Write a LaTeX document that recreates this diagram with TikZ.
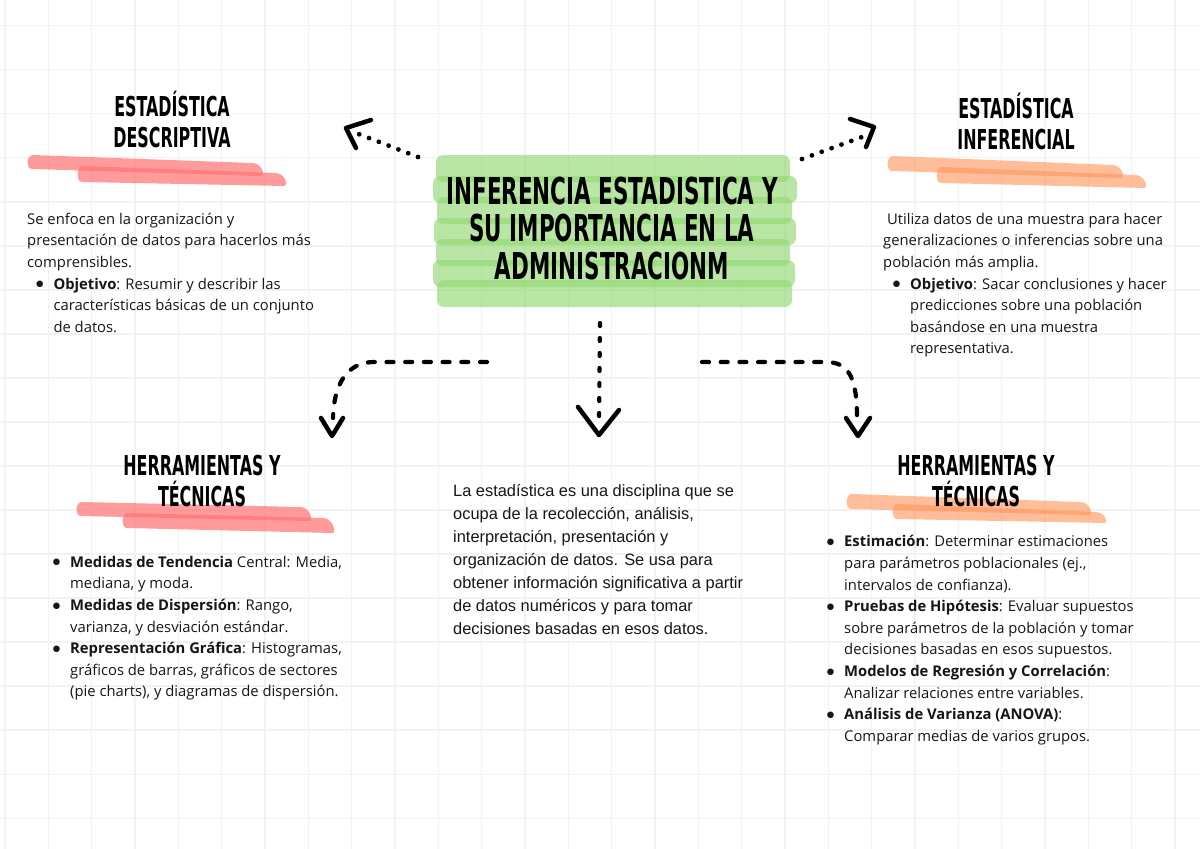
\documentclass[tikz,border=0pt]{standalone}
\usepackage{fontspec}
\setmainfont{Open Sans}
\newfontfamily\ctext{Liberation Sans}
\newfontfamily\dvs{DejaVu Sans}
\newfontfamily\hand{DejaVu Sans}[FakeStretch=0.58]
\definecolor{gridc}{HTML}{F2F2F2}
\definecolor{pinkB}{RGB}{255,117,117}
\definecolor{orangeB}{RGB}{255,149,92}
\definecolor{greenB}{RGB}{146,216,115}
\definecolor{ink}{HTML}{161616}
\newcommand\brushstroke[7]{%
  \fill[#1] ({#2+5},#3) -- ({#5-10},#6) .. controls ({#5},#6) and ({#5+3},{#7-1}) .. ({#5},#7)
    -- ({#2+4},#4) .. controls ({#2-2},#4) and ({#2-2},#3) .. cycle;}
\newcommand\greenband[6]{%
  \fill[greenB, fill opacity=0.64, rounded corners=7pt] (#1,#2) -- (#4,#5) -- (#4,{#5+27}) -- (#1,{#2+27}) -- cycle;}
\newcommand\bul{\llap{\raisebox{2.4pt}{\dvs\fontsize{8.5}{8.5}\selectfont ●}\hspace{10pt}}}
\tikzset{
  gridline/.style={draw=gridc, line width=1.4pt},
  heading/.style={font=\hand\bfseries\fontsize{27.4}{30.5}\selectfont, align=center, anchor=south, inner sep=0pt, text=black},
  titletext/.style={font=\hand\bfseries\fontsize{37}{37.5}\selectfont, align=center, anchor=south, inner sep=0pt, text=black},
  body/.style={font=\fontsize{14.8}{21.6}\selectfont, align=left, anchor=north west, inner sep=0pt, text=ink},
  ctr/.style={font=\ctext\fontsize{16.4}{23}\selectfont, align=left, anchor=north west, inner sep=0pt, text=ink},
  dotline/.style={line width=4.8pt, line cap=round, dash pattern=on 0pt off 10.5pt},
  dashline/.style={line width=4.2pt, line cap=round, dash pattern=on 7pt off 11.7pt},
  vdash/.style={line width=4.2pt, line cap=round, dash pattern=on 3pt off 12pt},
  head/.style={line width=4.5pt, line cap=round, line join=round},
  pinkfill/.style={fill=pinkB, fill opacity=0.72},
  orangefill/.style={fill=orangeB, fill opacity=0.62}
}
\begin{document}
\begin{tikzpicture}[x=1pt, y=-1pt]
\fill[white] (0,0) rectangle (1200,849);
\useasboundingbox (0,0) rectangle (1200,849);
% grid
\foreach \i in {0,...,27} \draw[gridline] ({5+43.33*\i},0) -- ({5+43.33*\i},849);
\foreach \j in {0,...,18} \draw[gridline] (0,{25.7+44.03*\j}) -- (1200,{25.7+44.03*\j});

% green title brush
\greenband{436}{155}{}{790}{155}{}
\greenband{433}{176}{}{797}{176}{}
\greenband{437}{197}{}{792}{197}{}
\greenband{434}{218}{}{796}{218}{}
\greenband{436}{239}{}{790}{239}{}
\greenband{433}{260}{}{795}{260}{}
\greenband{437}{280}{}{792}{280}{}

% highlighter strokes
\brushstroke{pinkfill}{28}{155}{169}{262}{163}{176}
\brushstroke{pinkfill}{78}{166}{182}{285}{173}{186}
\brushstroke{orangefill}{888}{156}{171}{1122}{165}{178}
\brushstroke{orangefill}{937}{167}{183}{1145}{175}{188}
\brushstroke{pinkfill}{77}{502}{516}{310}{507}{521}
\brushstroke{pinkfill}{123}{513}{528}{333}{518}{533}
\brushstroke{orangefill}{847}{494}{509}{1090}{502}{515}
\brushstroke{orangefill}{893}{504}{519}{1105}{512}{523}

% title
\node[titletext] (title) at (612,280) {INFERENCIA ESTADISTICA Y\\SU IMPORTANCIA EN LA\\ADMINISTRACIONM};

% headings
\node[heading] (hTL) at (172,148) {ESTADÍSTICA\\DESCRIPTIVA};
\node[heading] (hTR) at (1016,150) {ESTADÍSTICA\\INFERENCIAL};
\node[heading] (hBL) at (202,507) {HERRAMIENTAS Y\\TÉCNICAS};
\node[heading] (hBR) at (976,507) {HERRAMIENTAS Y\\TÉCNICAS};

% text blocks
\node[body] (tTL) at (27,208.9) {\strut Se enfoca en la organización y\\
presentación de datos para hacerlos más\\
comprensibles.\\
\hspace*{26.3pt}\bul\textbf{Objetivo}: Resumir y describir las\\
\hspace*{26.3pt}características básicas de un conjunto\\
\hspace*{26.3pt}de datos.};

\node[body] (tTR) at (883,208.9) {\strut\hspace*{4pt}Utiliza datos de una muestra para hacer\\
generalizaciones o inferencias sobre una\\
población más amplia.\\
\hspace*{27pt}\bul\textbf{Objetivo}: Sacar conclusiones y hacer\\
\hspace*{27pt}predicciones sobre una población\\
\hspace*{27pt}basándose en una muestra\\
\hspace*{27pt}representativa.};

\node[body] (tBL) at (70,551.9) {\strut\bul\textbf{Medidas de Tendencia} Central: Media,\\
mediana, y moda.\\
\bul\textbf{Medidas de Dispersión}: Rango,\\
varianza, y desviación estándar.\\
\bul\textbf{Representación Gráfica}: Histogramas,\\
gráficos de barras, gráficos de sectores\\
(pie charts), y diagramas de dispersión.};

\node[ctr] (tC) at (453,480.6) {\strut La estadística es una disciplina que se\\
ocupa de la recolección, análisis,\\
interpretación, presentación y\\
organización de datos. Se usa para\\
obtener información significativa a partir\\
de datos numéricos y para tomar\\
decisiones basadas en esos datos.};

\node[body] (tBR) at (844,531.6) {\strut\bul\textbf{Estimación}: Determinar estimaciones\\
para parámetros poblacionales (ej.,\\
intervalos de confianza).\\
\bul\textbf{Pruebas de Hipótesis}: Evaluar supuestos\\
sobre parámetros de la población y tomar\\
decisiones basadas en esos supuestos.\\
\bul\textbf{Modelos de Regresión y Correlación}:\\
Analizar relaciones entre variables.\\
\bul\textbf{Análisis de Varianza (ANOVA)}:\\
Comparar medias de varios grupos.};

% connectors
\coordinate (tlS) at (418,157);
\coordinate (tlE) at (356,133);
\coordinate (tlT) at (346,128);
\coordinate (tlA) at (371,120);
\coordinate (tlB) at (356,148);
\draw[dotline] (tlS) -- (tlE);
\draw[head] (tlA) -- (tlT) -- (tlB);

\coordinate (trS) at (802,159);
\coordinate (trE) at (862,137);
\coordinate (trT) at (874,127);
\coordinate (trA) at (850,119);
\coordinate (trB) at (866,147);
\draw[dotline] (trS) -- (trE);
\draw[head] (trA) -- (trT) -- (trB);

\coordinate (lcS) at (487,362);
\coordinate (lcM) at (374,362);
\coordinate (lcE) at (333,418);
\coordinate (lcT) at (332,436);
\coordinate (lcA) at (321,418);
\coordinate (lcB) at (343,418);
\draw[dashline] (lcS) -- (lcM) .. controls (350,362) and (334,380) .. (lcE);
\draw[head] (lcA) -- (lcT) -- (lcB);

\coordinate (mS) at (600,323);
\coordinate (mE) at (599,422);
\coordinate (mT) at (599,435);
\coordinate (mA) at (578,407);
\coordinate (mB) at (619,410);
\draw[vdash] (mS) -- (mE);
\draw[head] (mA) -- (mT) -- (mB);

\coordinate (rcS) at (702,362);
\coordinate (rcM) at (826,362);
\coordinate (rcE) at (857,418);
\coordinate (rcT) at (858,436);
\coordinate (rcA) at (846,418);
\coordinate (rcB) at (870,418);
\draw[dashline] (rcS) -- (rcM) .. controls (850,362) and (857,380) .. (rcE);
\draw[head] (rcA) -- (rcT) -- (rcB);
\end{tikzpicture}
\end{document}
